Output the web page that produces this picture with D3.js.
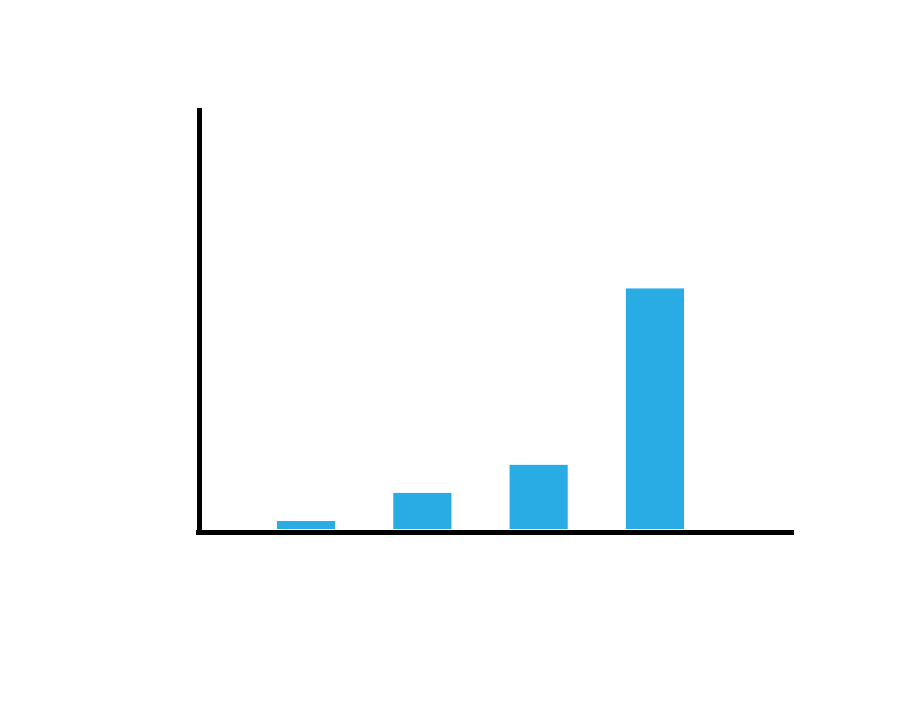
<!DOCTYPE html>
<html>
<head>
<meta charset="utf-8">
<script src="https://cdn.jsdelivr.net/npm/d3@7"></script>
<style>
    body { margin: 0; background: #fff; }
</style>
</head>
<body>
<div id="chart"></div>
<script>
const categories = ["A", "B", "C", "D"]
const values = [2, 9, 16, 60]
const yMax = 105

const width = 900
const height = 720
const margins = {
    top: 108,
    right: 106,
    bottom: 191,
    left: 200
}

const svg = d3.select("#chart")
    .append("svg")
    .attr("width", width)
    .attr("height", height)

const xScale = d3.scaleBand()
    .domain(categories)
    .range([margins.left, 761])
    .paddingInner(0.5)
    .paddingOuter(0.662)

const yScale = d3.scaleLinear()
    .domain([0, yMax])
    .range([height - margins.bottom, margins.top])

svg.selectAll(".bar")
    .data(values)
    .enter()
    .append("rect")
    .attr("class", "bar")
    .attr("x", (d, i) => xScale(categories[i]))
    .attr("width", xScale.bandwidth())
    .attr("y", d => yScale(d))
    .attr("height", d => yScale(0) - yScale(d))
    .style("fill", "#29abe3")

// axes are plain thick lines, no ticks or labels
svg.append("line")
    .attr("x1", 199.5)
    .attr("x2", 199.5)
    .attr("y1", margins.top)
    .attr("y2", 535)
    .style("stroke", "#000")
    .style("stroke-width", 5)

svg.append("line")
    .attr("x1", 196)
    .attr("x2", 794)
    .attr("y1", 532.5)
    .attr("y2", 532.5)
    .style("stroke", "#000")
    .style("stroke-width", 5)
</script>
</body>
</html>
